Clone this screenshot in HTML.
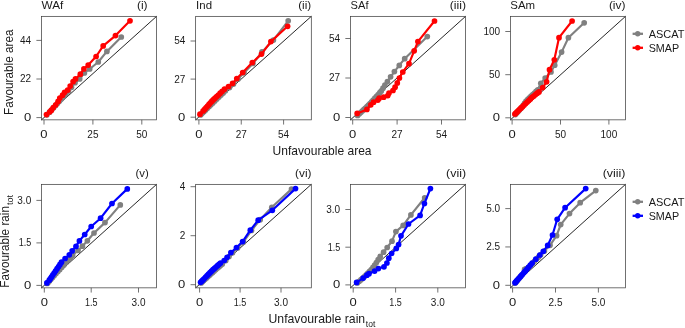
<!DOCTYPE html>
<html lang="en"><head><meta charset="utf-8"><title>Figure</title>
<style>html,body{margin:0;padding:0;background:#fff}svg{display:block}</style></head>
<body>
<svg width="685" height="328" viewBox="0 0 685 328" font-family="'Liberation Sans', sans-serif" fill="#1a1a1a">
<rect width="685" height="328" fill="#fff"/>
<g>
<line x1="41.50" y1="119.85" x2="156.55" y2="16.35" stroke="#262626" stroke-width="1.0"/>
<polyline points="46.9,114.8 49.5,112.2 51.5,110.0 53.5,107.8 55.5,105.6 57.5,103.3 59.5,101.0 61.5,98.8 63.8,96.3 66.0,93.8 68.5,91.0 71.5,87.3 75.0,82.7 79.7,78.9 84.4,72.9 89.7,69.0 98.3,62.0 106.9,51.4 121.3,37.0" fill="none" stroke="#808080" stroke-width="2.15" stroke-linejoin="round" stroke-linecap="round"/><g fill="#808080"><circle cx="46.9" cy="114.8" r="2.85"/><circle cx="49.5" cy="112.2" r="2.85"/><circle cx="51.5" cy="110.0" r="2.85"/><circle cx="53.5" cy="107.8" r="2.85"/><circle cx="55.5" cy="105.6" r="2.85"/><circle cx="57.5" cy="103.3" r="2.85"/><circle cx="59.5" cy="101.0" r="2.85"/><circle cx="61.5" cy="98.8" r="2.85"/><circle cx="63.8" cy="96.3" r="2.85"/><circle cx="66.0" cy="93.8" r="2.85"/><circle cx="68.5" cy="91.0" r="2.85"/><circle cx="71.5" cy="87.3" r="2.85"/><circle cx="75.0" cy="82.7" r="2.85"/><circle cx="79.7" cy="78.9" r="2.85"/><circle cx="84.4" cy="72.9" r="2.85"/><circle cx="89.7" cy="69.0" r="2.85"/><circle cx="98.3" cy="62.0" r="2.85"/><circle cx="106.9" cy="51.4" r="2.85"/><circle cx="121.3" cy="37.0" r="2.85"/></g>
<polyline points="46.5,114.6 49.8,111.8 51.4,110.2 53.3,107.6 55.8,104.8 58.1,101.4 59.8,98.0 62.6,95.2 64.6,92.3 67.7,90.1 70.2,86.1 73.1,81.7 75.5,78.9 80.3,74.2 83.9,68.9 88.2,65.1 96.1,56.5 103.2,45.9 115.5,35.6 130.0,20.8" fill="none" stroke="#ff0000" stroke-width="2.15" stroke-linejoin="round" stroke-linecap="round"/><g fill="#ff0000"><circle cx="46.5" cy="114.6" r="2.85"/><circle cx="49.8" cy="111.8" r="2.85"/><circle cx="51.4" cy="110.2" r="2.85"/><circle cx="53.3" cy="107.6" r="2.85"/><circle cx="55.8" cy="104.8" r="2.85"/><circle cx="58.1" cy="101.4" r="2.85"/><circle cx="59.8" cy="98.0" r="2.85"/><circle cx="62.6" cy="95.2" r="2.85"/><circle cx="64.6" cy="92.3" r="2.85"/><circle cx="67.7" cy="90.1" r="2.85"/><circle cx="70.2" cy="86.1" r="2.85"/><circle cx="73.1" cy="81.7" r="2.85"/><circle cx="75.5" cy="78.9" r="2.85"/><circle cx="80.3" cy="74.2" r="2.85"/><circle cx="83.9" cy="68.9" r="2.85"/><circle cx="88.2" cy="65.1" r="2.85"/><circle cx="96.1" cy="56.5" r="2.85"/><circle cx="103.2" cy="45.9" r="2.85"/><circle cx="115.5" cy="35.6" r="2.85"/><circle cx="130.0" cy="20.8" r="2.85"/></g>
<rect x="41.50" y="16.35" width="115.05" height="103.50" fill="none" stroke="#3a3a3a" stroke-width="0.72"/>
<line x1="44.00" y1="119.85" x2="44.00" y2="124.55" stroke="#3a3a3a" stroke-width="0.72"/>
<text x="40.39" y="137.85" font-size="10.00" textLength="7.23" lengthAdjust="spacingAndGlyphs">0</text>
<line x1="92.90" y1="119.85" x2="92.90" y2="124.55" stroke="#3a3a3a" stroke-width="0.72"/>
<text x="87.34" y="137.85" font-size="10.00" textLength="11.12" lengthAdjust="spacingAndGlyphs">25</text>
<line x1="141.80" y1="119.85" x2="141.80" y2="124.55" stroke="#3a3a3a" stroke-width="0.72"/>
<text x="136.24" y="137.85" font-size="10.00" textLength="11.12" lengthAdjust="spacingAndGlyphs">50</text>
<line x1="36.40" y1="117.60" x2="41.50" y2="117.60" stroke="#3a3a3a" stroke-width="0.72"/>
<text x="23.98" y="121.05" font-size="10.00" textLength="7.23" lengthAdjust="spacingAndGlyphs">0</text>
<line x1="36.40" y1="79.00" x2="41.50" y2="79.00" stroke="#3a3a3a" stroke-width="0.72"/>
<text x="20.07" y="82.45" font-size="10.00" textLength="11.12" lengthAdjust="spacingAndGlyphs">22</text>
<line x1="36.40" y1="40.40" x2="41.50" y2="40.40" stroke="#3a3a3a" stroke-width="0.72"/>
<text x="20.07" y="43.85" font-size="10.00" textLength="11.12" lengthAdjust="spacingAndGlyphs">44</text>
<text x="41.60" y="8.65" font-size="11.60" textLength="21.76" lengthAdjust="spacingAndGlyphs">WAf</text>
<text x="136.90" y="8.65" font-size="11.60" textLength="10.71" lengthAdjust="spacingAndGlyphs">(i)</text>
</g>
<g>
<line x1="195.65" y1="119.85" x2="311.30" y2="16.35" stroke="#262626" stroke-width="1.0"/>
<polyline points="200.4,114.9 201.3,114.0 202.6,112.8 204.0,111.4 205.6,109.9 207.3,108.2 209.1,106.5 210.9,104.8 212.8,102.9 214.8,101.0 216.8,99.1 218.9,97.1 221.0,95.0 223.2,92.9 225.4,90.8 229.5,87.6 233.5,84.0 238.0,79.0 244.0,72.7 253.0,63.5 262.0,51.9 273.4,40.1 288.2,20.8" fill="none" stroke="#808080" stroke-width="2.15" stroke-linejoin="round" stroke-linecap="round"/><g fill="#808080"><circle cx="200.4" cy="114.9" r="2.85"/><circle cx="201.3" cy="114.0" r="2.85"/><circle cx="202.6" cy="112.8" r="2.85"/><circle cx="204.0" cy="111.4" r="2.85"/><circle cx="205.6" cy="109.9" r="2.85"/><circle cx="207.3" cy="108.2" r="2.85"/><circle cx="209.1" cy="106.5" r="2.85"/><circle cx="210.9" cy="104.8" r="2.85"/><circle cx="212.8" cy="102.9" r="2.85"/><circle cx="214.8" cy="101.0" r="2.85"/><circle cx="216.8" cy="99.1" r="2.85"/><circle cx="218.9" cy="97.1" r="2.85"/><circle cx="221.0" cy="95.0" r="2.85"/><circle cx="223.2" cy="92.9" r="2.85"/><circle cx="225.4" cy="90.8" r="2.85"/><circle cx="229.5" cy="87.6" r="2.85"/><circle cx="233.5" cy="84.0" r="2.85"/><circle cx="238.0" cy="79.0" r="2.85"/><circle cx="244.0" cy="72.7" r="2.85"/><circle cx="253.0" cy="63.5" r="2.85"/><circle cx="262.0" cy="51.9" r="2.85"/><circle cx="273.4" cy="40.1" r="2.85"/><circle cx="288.2" cy="20.8" r="2.85"/></g>
<polyline points="200.0,114.2 203.2,110.9 204.8,109.2 206.2,107.6 207.6,106.0 209.0,104.4 210.4,102.8 211.9,101.2 213.4,99.7 215.0,98.2 216.7,96.6 218.4,95.0 220.2,93.2 222.2,91.3 224.5,89.2 228.5,86.5 232.6,83.3 236.8,78.6 242.7,72.5 252.3,62.5 261.5,54.1 270.9,41.6 287.6,26.3" fill="none" stroke="#ff0000" stroke-width="2.15" stroke-linejoin="round" stroke-linecap="round"/><g fill="#ff0000"><circle cx="200.0" cy="114.2" r="2.85"/><circle cx="203.2" cy="110.9" r="2.85"/><circle cx="204.8" cy="109.2" r="2.85"/><circle cx="206.2" cy="107.6" r="2.85"/><circle cx="207.6" cy="106.0" r="2.85"/><circle cx="209.0" cy="104.4" r="2.85"/><circle cx="210.4" cy="102.8" r="2.85"/><circle cx="211.9" cy="101.2" r="2.85"/><circle cx="213.4" cy="99.7" r="2.85"/><circle cx="215.0" cy="98.2" r="2.85"/><circle cx="216.7" cy="96.6" r="2.85"/><circle cx="218.4" cy="95.0" r="2.85"/><circle cx="220.2" cy="93.2" r="2.85"/><circle cx="222.2" cy="91.3" r="2.85"/><circle cx="224.5" cy="89.2" r="2.85"/><circle cx="228.5" cy="86.5" r="2.85"/><circle cx="232.6" cy="83.3" r="2.85"/><circle cx="236.8" cy="78.6" r="2.85"/><circle cx="242.7" cy="72.5" r="2.85"/><circle cx="252.3" cy="62.5" r="2.85"/><circle cx="261.5" cy="54.1" r="2.85"/><circle cx="270.9" cy="41.6" r="2.85"/><circle cx="287.6" cy="26.3" r="2.85"/></g>
<rect x="195.65" y="16.35" width="115.65" height="103.50" fill="none" stroke="#3a3a3a" stroke-width="0.72"/>
<line x1="198.90" y1="119.85" x2="198.90" y2="124.55" stroke="#3a3a3a" stroke-width="0.72"/>
<text x="195.29" y="137.85" font-size="10.00" textLength="7.23" lengthAdjust="spacingAndGlyphs">0</text>
<line x1="241.25" y1="119.85" x2="241.25" y2="124.55" stroke="#3a3a3a" stroke-width="0.72"/>
<text x="235.69" y="137.85" font-size="10.00" textLength="11.12" lengthAdjust="spacingAndGlyphs">27</text>
<line x1="283.60" y1="119.85" x2="283.60" y2="124.55" stroke="#3a3a3a" stroke-width="0.72"/>
<text x="278.04" y="137.85" font-size="10.00" textLength="11.12" lengthAdjust="spacingAndGlyphs">54</text>
<line x1="190.55" y1="117.20" x2="195.65" y2="117.20" stroke="#3a3a3a" stroke-width="0.72"/>
<text x="178.13" y="120.65" font-size="10.00" textLength="7.23" lengthAdjust="spacingAndGlyphs">0</text>
<line x1="190.55" y1="79.10" x2="195.65" y2="79.10" stroke="#3a3a3a" stroke-width="0.72"/>
<text x="174.22" y="82.55" font-size="10.00" textLength="11.12" lengthAdjust="spacingAndGlyphs">27</text>
<line x1="190.55" y1="41.00" x2="195.65" y2="41.00" stroke="#3a3a3a" stroke-width="0.72"/>
<text x="174.22" y="44.45" font-size="10.00" textLength="11.12" lengthAdjust="spacingAndGlyphs">54</text>
<text x="196.10" y="8.65" font-size="11.60" textLength="15.90" lengthAdjust="spacingAndGlyphs">Ind</text>
<text x="298.20" y="8.65" font-size="11.60" textLength="13.00" lengthAdjust="spacingAndGlyphs">(ii)</text>
</g>
<g>
<line x1="350.45" y1="119.85" x2="465.55" y2="16.35" stroke="#262626" stroke-width="1.0"/>
<polyline points="357.6,115.4 359.3,113.8 360.9,112.3 362.5,110.8 364.0,109.4 365.5,108.0 367.0,106.6 368.5,105.1 370.0,103.5 371.6,101.8 373.2,100.0 374.9,98.2 376.6,96.3 378.2,94.5 379.8,92.7 381.3,90.9 383.0,88.2 384.9,85.2 387.4,81.7 390.6,76.8 394.4,71.6 399.3,65.4 404.7,58.7 427.3,36.6" fill="none" stroke="#808080" stroke-width="2.15" stroke-linejoin="round" stroke-linecap="round"/><g fill="#808080"><circle cx="357.6" cy="115.4" r="2.85"/><circle cx="359.3" cy="113.8" r="2.85"/><circle cx="360.9" cy="112.3" r="2.85"/><circle cx="362.5" cy="110.8" r="2.85"/><circle cx="364.0" cy="109.4" r="2.85"/><circle cx="365.5" cy="108.0" r="2.85"/><circle cx="367.0" cy="106.6" r="2.85"/><circle cx="368.5" cy="105.1" r="2.85"/><circle cx="370.0" cy="103.5" r="2.85"/><circle cx="371.6" cy="101.8" r="2.85"/><circle cx="373.2" cy="100.0" r="2.85"/><circle cx="374.9" cy="98.2" r="2.85"/><circle cx="376.6" cy="96.3" r="2.85"/><circle cx="378.2" cy="94.5" r="2.85"/><circle cx="379.8" cy="92.7" r="2.85"/><circle cx="381.3" cy="90.9" r="2.85"/><circle cx="383.0" cy="88.2" r="2.85"/><circle cx="384.9" cy="85.2" r="2.85"/><circle cx="387.4" cy="81.7" r="2.85"/><circle cx="390.6" cy="76.8" r="2.85"/><circle cx="394.4" cy="71.6" r="2.85"/><circle cx="399.3" cy="65.4" r="2.85"/><circle cx="404.7" cy="58.7" r="2.85"/><circle cx="427.3" cy="36.6" r="2.85"/></g>
<polyline points="357.2,113.4 366.9,109.4 370.8,104.8 373.6,102.2 377.9,100.1 379.2,98.2 383.7,97.2 387.8,95.6 389.0,93.0 393.0,90.5 395.1,87.2 397.3,82.9 399.4,78.0 402.8,72.0 409.0,63.7 414.2,50.8 417.9,41.6 434.5,21.0" fill="none" stroke="#ff0000" stroke-width="2.15" stroke-linejoin="round" stroke-linecap="round"/><g fill="#ff0000"><circle cx="357.2" cy="113.4" r="2.85"/><circle cx="366.9" cy="109.4" r="2.85"/><circle cx="370.8" cy="104.8" r="2.85"/><circle cx="373.6" cy="102.2" r="2.85"/><circle cx="377.9" cy="100.1" r="2.85"/><circle cx="379.2" cy="98.2" r="2.85"/><circle cx="383.7" cy="97.2" r="2.85"/><circle cx="387.8" cy="95.6" r="2.85"/><circle cx="389.0" cy="93.0" r="2.85"/><circle cx="393.0" cy="90.5" r="2.85"/><circle cx="395.1" cy="87.2" r="2.85"/><circle cx="397.3" cy="82.9" r="2.85"/><circle cx="399.4" cy="78.0" r="2.85"/><circle cx="402.8" cy="72.0" r="2.85"/><circle cx="409.0" cy="63.7" r="2.85"/><circle cx="414.2" cy="50.8" r="2.85"/><circle cx="417.9" cy="41.6" r="2.85"/><circle cx="434.5" cy="21.0" r="2.85"/></g>
<rect x="350.45" y="16.35" width="115.10" height="103.50" fill="none" stroke="#3a3a3a" stroke-width="0.72"/>
<line x1="352.70" y1="119.85" x2="352.70" y2="124.55" stroke="#3a3a3a" stroke-width="0.72"/>
<text x="349.09" y="137.85" font-size="10.00" textLength="7.23" lengthAdjust="spacingAndGlyphs">0</text>
<line x1="397.10" y1="119.85" x2="397.10" y2="124.55" stroke="#3a3a3a" stroke-width="0.72"/>
<text x="391.54" y="137.85" font-size="10.00" textLength="11.12" lengthAdjust="spacingAndGlyphs">27</text>
<line x1="441.50" y1="119.85" x2="441.50" y2="124.55" stroke="#3a3a3a" stroke-width="0.72"/>
<text x="435.94" y="137.85" font-size="10.00" textLength="11.12" lengthAdjust="spacingAndGlyphs">54</text>
<line x1="345.35" y1="117.50" x2="350.45" y2="117.50" stroke="#3a3a3a" stroke-width="0.72"/>
<text x="332.94" y="120.95" font-size="10.00" textLength="7.23" lengthAdjust="spacingAndGlyphs">0</text>
<line x1="345.35" y1="78.00" x2="350.45" y2="78.00" stroke="#3a3a3a" stroke-width="0.72"/>
<text x="329.02" y="81.45" font-size="10.00" textLength="11.12" lengthAdjust="spacingAndGlyphs">27</text>
<line x1="345.35" y1="38.50" x2="350.45" y2="38.50" stroke="#3a3a3a" stroke-width="0.72"/>
<text x="329.02" y="41.95" font-size="10.00" textLength="11.12" lengthAdjust="spacingAndGlyphs">54</text>
<text x="350.60" y="8.65" font-size="11.60" textLength="17.86" lengthAdjust="spacingAndGlyphs">SAf</text>
<text x="449.70" y="8.65" font-size="11.60" textLength="16.30" lengthAdjust="spacingAndGlyphs">(iii)</text>
</g>
<g>
<line x1="510.40" y1="119.85" x2="625.50" y2="16.35" stroke="#262626" stroke-width="1.0"/>
<polyline points="515.3,114.6 516.6,113.1 518.0,111.6 519.3,110.0 520.7,108.5 522.0,107.0 523.4,105.0 524.7,103.0 526.1,101.0 527.8,99.4 529.4,97.8 531.1,96.2 532.8,94.6 534.5,93.0 536.1,91.4 537.8,89.8 540.8,83.3 545.2,78.1 551.0,72.0 554.7,65.2 561.6,52.1 568.4,37.7 584.2,22.8" fill="none" stroke="#808080" stroke-width="2.15" stroke-linejoin="round" stroke-linecap="round"/><g fill="#808080"><circle cx="515.3" cy="114.6" r="2.85"/><circle cx="516.6" cy="113.1" r="2.85"/><circle cx="518.0" cy="111.6" r="2.85"/><circle cx="519.3" cy="110.0" r="2.85"/><circle cx="520.7" cy="108.5" r="2.85"/><circle cx="522.0" cy="107.0" r="2.85"/><circle cx="523.4" cy="105.0" r="2.85"/><circle cx="524.7" cy="103.0" r="2.85"/><circle cx="526.1" cy="101.0" r="2.85"/><circle cx="527.8" cy="99.4" r="2.85"/><circle cx="529.4" cy="97.8" r="2.85"/><circle cx="531.1" cy="96.2" r="2.85"/><circle cx="532.8" cy="94.6" r="2.85"/><circle cx="534.5" cy="93.0" r="2.85"/><circle cx="536.1" cy="91.4" r="2.85"/><circle cx="537.8" cy="89.8" r="2.85"/><circle cx="540.8" cy="83.3" r="2.85"/><circle cx="545.2" cy="78.1" r="2.85"/><circle cx="551.0" cy="72.0" r="2.85"/><circle cx="554.7" cy="65.2" r="2.85"/><circle cx="561.6" cy="52.1" r="2.85"/><circle cx="568.4" cy="37.7" r="2.85"/><circle cx="584.2" cy="22.8" r="2.85"/></g>
<polyline points="514.9,114.0 515.9,113.0 517.1,111.9 518.4,110.6 519.7,109.3 521.1,107.9 522.6,106.5 524.1,105.0 525.6,103.5 527.2,102.0 528.8,100.5 530.4,98.9 532.0,97.3 533.8,96.0 535.5,94.6 537.2,93.2 539.0,91.9 542.7,87.6 546.6,81.8 549.5,69.7 554.3,59.8 559.0,37.7 572.1,21.0" fill="none" stroke="#ff0000" stroke-width="2.15" stroke-linejoin="round" stroke-linecap="round"/><g fill="#ff0000"><circle cx="514.9" cy="114.0" r="2.85"/><circle cx="515.9" cy="113.0" r="2.85"/><circle cx="517.1" cy="111.9" r="2.85"/><circle cx="518.4" cy="110.6" r="2.85"/><circle cx="519.7" cy="109.3" r="2.85"/><circle cx="521.1" cy="107.9" r="2.85"/><circle cx="522.6" cy="106.5" r="2.85"/><circle cx="524.1" cy="105.0" r="2.85"/><circle cx="525.6" cy="103.5" r="2.85"/><circle cx="527.2" cy="102.0" r="2.85"/><circle cx="528.8" cy="100.5" r="2.85"/><circle cx="530.4" cy="98.9" r="2.85"/><circle cx="532.0" cy="97.3" r="2.85"/><circle cx="533.8" cy="96.0" r="2.85"/><circle cx="535.5" cy="94.6" r="2.85"/><circle cx="537.2" cy="93.2" r="2.85"/><circle cx="539.0" cy="91.9" r="2.85"/><circle cx="542.7" cy="87.6" r="2.85"/><circle cx="546.6" cy="81.8" r="2.85"/><circle cx="549.5" cy="69.7" r="2.85"/><circle cx="554.3" cy="59.8" r="2.85"/><circle cx="559.0" cy="37.7" r="2.85"/><circle cx="572.1" cy="21.0" r="2.85"/></g>
<rect x="510.40" y="16.35" width="115.10" height="103.50" fill="none" stroke="#3a3a3a" stroke-width="0.72"/>
<line x1="512.10" y1="119.85" x2="512.10" y2="124.55" stroke="#3a3a3a" stroke-width="0.72"/>
<text x="508.49" y="137.85" font-size="10.00" textLength="7.23" lengthAdjust="spacingAndGlyphs">0</text>
<line x1="560.50" y1="119.85" x2="560.50" y2="124.55" stroke="#3a3a3a" stroke-width="0.72"/>
<text x="554.94" y="137.85" font-size="10.00" textLength="11.12" lengthAdjust="spacingAndGlyphs">50</text>
<line x1="608.90" y1="119.85" x2="608.90" y2="124.55" stroke="#3a3a3a" stroke-width="0.72"/>
<text x="600.56" y="137.85" font-size="10.00" textLength="16.69" lengthAdjust="spacingAndGlyphs">100</text>
<line x1="505.30" y1="117.80" x2="510.40" y2="117.80" stroke="#3a3a3a" stroke-width="0.72"/>
<text x="492.88" y="121.25" font-size="10.00" textLength="7.23" lengthAdjust="spacingAndGlyphs">0</text>
<line x1="505.30" y1="74.70" x2="510.40" y2="74.70" stroke="#3a3a3a" stroke-width="0.72"/>
<text x="488.97" y="78.15" font-size="10.00" textLength="11.12" lengthAdjust="spacingAndGlyphs">50</text>
<line x1="505.30" y1="31.50" x2="510.40" y2="31.50" stroke="#3a3a3a" stroke-width="0.72"/>
<text x="483.42" y="34.95" font-size="10.00" textLength="16.69" lengthAdjust="spacingAndGlyphs">100</text>
<text x="510.30" y="8.65" font-size="11.60" textLength="24.79" lengthAdjust="spacingAndGlyphs">SAm</text>
<text x="608.90" y="8.65" font-size="11.60" textLength="16.61" lengthAdjust="spacingAndGlyphs">(iv)</text>
</g>
<g>
<line x1="41.50" y1="287.85" x2="156.55" y2="184.35" stroke="#262626" stroke-width="1.0"/>
<polyline points="47.2,283.4 48.1,282.4 49.4,280.9 50.9,279.3 52.5,277.5 54.2,275.6 56.0,273.6 57.9,271.5 59.8,269.4 61.8,267.2 63.9,264.9 66.0,262.5 68.1,260.1 70.4,257.7 72.6,255.2 78.0,250.5 82.4,246.2 87.4,240.8 94.0,233.0 105.0,222.6 120.3,204.9" fill="none" stroke="#808080" stroke-width="2.15" stroke-linejoin="round" stroke-linecap="round"/><g fill="#808080"><circle cx="47.2" cy="283.4" r="2.85"/><circle cx="48.1" cy="282.4" r="2.85"/><circle cx="49.4" cy="280.9" r="2.85"/><circle cx="50.9" cy="279.3" r="2.85"/><circle cx="52.5" cy="277.5" r="2.85"/><circle cx="54.2" cy="275.6" r="2.85"/><circle cx="56.0" cy="273.6" r="2.85"/><circle cx="57.9" cy="271.5" r="2.85"/><circle cx="59.8" cy="269.4" r="2.85"/><circle cx="61.8" cy="267.2" r="2.85"/><circle cx="63.9" cy="264.9" r="2.85"/><circle cx="66.0" cy="262.5" r="2.85"/><circle cx="68.1" cy="260.1" r="2.85"/><circle cx="70.4" cy="257.7" r="2.85"/><circle cx="72.6" cy="255.2" r="2.85"/><circle cx="78.0" cy="250.5" r="2.85"/><circle cx="82.4" cy="246.2" r="2.85"/><circle cx="87.4" cy="240.8" r="2.85"/><circle cx="94.0" cy="233.0" r="2.85"/><circle cx="105.0" cy="222.6" r="2.85"/><circle cx="120.3" cy="204.9" r="2.85"/></g>
<polyline points="46.9,282.9 49.3,280.2 50.4,278.6 51.6,276.8 52.9,274.8 54.3,272.8 55.7,270.8 57.1,268.7 58.6,266.5 60.0,264.4 61.5,262.2 65.1,258.5 69.3,254.8 72.2,250.9 76.0,246.4 79.4,240.9 84.7,234.5 91.2,226.5 100.6,218.2 112.0,203.5 127.3,188.9" fill="none" stroke="#0000ff" stroke-width="2.15" stroke-linejoin="round" stroke-linecap="round"/><g fill="#0000ff"><circle cx="46.9" cy="282.9" r="2.85"/><circle cx="49.3" cy="280.2" r="2.85"/><circle cx="50.4" cy="278.6" r="2.85"/><circle cx="51.6" cy="276.8" r="2.85"/><circle cx="52.9" cy="274.8" r="2.85"/><circle cx="54.3" cy="272.8" r="2.85"/><circle cx="55.7" cy="270.8" r="2.85"/><circle cx="57.1" cy="268.7" r="2.85"/><circle cx="58.6" cy="266.5" r="2.85"/><circle cx="60.0" cy="264.4" r="2.85"/><circle cx="61.5" cy="262.2" r="2.85"/><circle cx="65.1" cy="258.5" r="2.85"/><circle cx="69.3" cy="254.8" r="2.85"/><circle cx="72.2" cy="250.9" r="2.85"/><circle cx="76.0" cy="246.4" r="2.85"/><circle cx="79.4" cy="240.9" r="2.85"/><circle cx="84.7" cy="234.5" r="2.85"/><circle cx="91.2" cy="226.5" r="2.85"/><circle cx="100.6" cy="218.2" r="2.85"/><circle cx="112.0" cy="203.5" r="2.85"/><circle cx="127.3" cy="188.9" r="2.85"/></g>
<rect x="41.50" y="184.35" width="115.05" height="103.50" fill="none" stroke="#3a3a3a" stroke-width="0.72"/>
<line x1="44.30" y1="287.85" x2="44.30" y2="292.55" stroke="#3a3a3a" stroke-width="0.72"/>
<text x="40.69" y="305.85" font-size="10.00" textLength="7.23" lengthAdjust="spacingAndGlyphs">0</text>
<line x1="91.20" y1="287.85" x2="91.20" y2="292.55" stroke="#3a3a3a" stroke-width="0.72"/>
<text x="84.95" y="305.85" font-size="10.00" textLength="12.51" lengthAdjust="spacingAndGlyphs">1.5</text>
<line x1="138.50" y1="287.85" x2="138.50" y2="292.55" stroke="#3a3a3a" stroke-width="0.72"/>
<text x="131.55" y="305.85" font-size="10.00" textLength="13.90" lengthAdjust="spacingAndGlyphs">3.0</text>
<line x1="36.40" y1="285.40" x2="41.50" y2="285.40" stroke="#3a3a3a" stroke-width="0.72"/>
<text x="23.98" y="288.85" font-size="10.00" textLength="7.23" lengthAdjust="spacingAndGlyphs">0</text>
<line x1="36.40" y1="242.90" x2="41.50" y2="242.90" stroke="#3a3a3a" stroke-width="0.72"/>
<text x="18.69" y="246.35" font-size="10.00" textLength="12.51" lengthAdjust="spacingAndGlyphs">1.5</text>
<line x1="36.40" y1="200.40" x2="41.50" y2="200.40" stroke="#3a3a3a" stroke-width="0.72"/>
<text x="17.30" y="203.85" font-size="10.00" textLength="13.90" lengthAdjust="spacingAndGlyphs">3.0</text>
<text x="135.50" y="176.65" font-size="11.60" textLength="13.31" lengthAdjust="spacingAndGlyphs">(v)</text>
</g>
<g>
<line x1="195.65" y1="287.85" x2="311.30" y2="184.35" stroke="#262626" stroke-width="1.0"/>
<polyline points="201.1,282.9 202.3,281.8 203.6,280.6 205.0,279.3 206.5,278.0 208.0,276.6 209.5,275.2 211.0,273.8 212.6,272.4 214.2,270.9 215.8,269.5 217.4,268.1 219.1,266.7 220.7,265.3 222.3,263.9 225.8,260.6 229.0,256.5 232.5,252.8 237.5,248.0 243.5,242.0 251.5,230.5 260.2,219.7 271.8,207.3 291.5,189.1" fill="none" stroke="#808080" stroke-width="2.15" stroke-linejoin="round" stroke-linecap="round"/><g fill="#808080"><circle cx="201.1" cy="282.9" r="2.85"/><circle cx="202.3" cy="281.8" r="2.85"/><circle cx="203.6" cy="280.6" r="2.85"/><circle cx="205.0" cy="279.3" r="2.85"/><circle cx="206.5" cy="278.0" r="2.85"/><circle cx="208.0" cy="276.6" r="2.85"/><circle cx="209.5" cy="275.2" r="2.85"/><circle cx="211.0" cy="273.8" r="2.85"/><circle cx="212.6" cy="272.4" r="2.85"/><circle cx="214.2" cy="270.9" r="2.85"/><circle cx="215.8" cy="269.5" r="2.85"/><circle cx="217.4" cy="268.1" r="2.85"/><circle cx="219.1" cy="266.7" r="2.85"/><circle cx="220.7" cy="265.3" r="2.85"/><circle cx="222.3" cy="263.9" r="2.85"/><circle cx="225.8" cy="260.6" r="2.85"/><circle cx="229.0" cy="256.5" r="2.85"/><circle cx="232.5" cy="252.8" r="2.85"/><circle cx="237.5" cy="248.0" r="2.85"/><circle cx="243.5" cy="242.0" r="2.85"/><circle cx="251.5" cy="230.5" r="2.85"/><circle cx="260.2" cy="219.7" r="2.85"/><circle cx="271.8" cy="207.3" r="2.85"/><circle cx="291.5" cy="189.1" r="2.85"/></g>
<polyline points="200.6,282.3 201.7,281.2 203.0,279.9 204.3,278.5 205.7,277.1 207.1,275.7 208.5,274.2 210.0,272.7 211.5,271.2 213.0,269.7 214.5,268.4 216.0,267.0 217.5,265.7 219.0,264.3 220.5,263.0 224.2,260.5 227.1,257.3 230.9,252.6 236.5,247.5 242.6,241.6 250.3,230.2 258.2,220.2 272.3,210.3 295.5,188.6" fill="none" stroke="#0000ff" stroke-width="2.15" stroke-linejoin="round" stroke-linecap="round"/><g fill="#0000ff"><circle cx="200.6" cy="282.3" r="2.85"/><circle cx="201.7" cy="281.2" r="2.85"/><circle cx="203.0" cy="279.9" r="2.85"/><circle cx="204.3" cy="278.5" r="2.85"/><circle cx="205.7" cy="277.1" r="2.85"/><circle cx="207.1" cy="275.7" r="2.85"/><circle cx="208.5" cy="274.2" r="2.85"/><circle cx="210.0" cy="272.7" r="2.85"/><circle cx="211.5" cy="271.2" r="2.85"/><circle cx="213.0" cy="269.7" r="2.85"/><circle cx="214.5" cy="268.4" r="2.85"/><circle cx="216.0" cy="267.0" r="2.85"/><circle cx="217.5" cy="265.7" r="2.85"/><circle cx="219.0" cy="264.3" r="2.85"/><circle cx="220.5" cy="263.0" r="2.85"/><circle cx="224.2" cy="260.5" r="2.85"/><circle cx="227.1" cy="257.3" r="2.85"/><circle cx="230.9" cy="252.6" r="2.85"/><circle cx="236.5" cy="247.5" r="2.85"/><circle cx="242.6" cy="241.6" r="2.85"/><circle cx="250.3" cy="230.2" r="2.85"/><circle cx="258.2" cy="220.2" r="2.85"/><circle cx="272.3" cy="210.3" r="2.85"/><circle cx="295.5" cy="188.6" r="2.85"/></g>
<rect x="195.65" y="184.35" width="115.65" height="103.50" fill="none" stroke="#3a3a3a" stroke-width="0.72"/>
<line x1="199.60" y1="287.85" x2="199.60" y2="292.55" stroke="#3a3a3a" stroke-width="0.72"/>
<text x="195.99" y="305.85" font-size="10.00" textLength="7.23" lengthAdjust="spacingAndGlyphs">0</text>
<line x1="240.10" y1="287.85" x2="240.10" y2="292.55" stroke="#3a3a3a" stroke-width="0.72"/>
<text x="233.84" y="305.85" font-size="10.00" textLength="12.51" lengthAdjust="spacingAndGlyphs">1.5</text>
<line x1="281.00" y1="287.85" x2="281.00" y2="292.55" stroke="#3a3a3a" stroke-width="0.72"/>
<text x="274.05" y="305.85" font-size="10.00" textLength="13.90" lengthAdjust="spacingAndGlyphs">3.0</text>
<line x1="190.55" y1="284.70" x2="195.65" y2="284.70" stroke="#3a3a3a" stroke-width="0.72"/>
<text x="178.13" y="288.15" font-size="10.00" textLength="7.23" lengthAdjust="spacingAndGlyphs">0</text>
<line x1="190.55" y1="235.70" x2="195.65" y2="235.70" stroke="#3a3a3a" stroke-width="0.72"/>
<text x="179.80" y="239.15" font-size="10.00" textLength="5.56" lengthAdjust="spacingAndGlyphs">2</text>
<line x1="190.55" y1="186.70" x2="195.65" y2="186.70" stroke="#3a3a3a" stroke-width="0.72"/>
<text x="179.80" y="190.15" font-size="10.00" textLength="5.56" lengthAdjust="spacingAndGlyphs">4</text>
<text x="295.10" y="176.65" font-size="11.60" textLength="16.41" lengthAdjust="spacingAndGlyphs">(vi)</text>
</g>
<g>
<line x1="350.45" y1="287.85" x2="465.55" y2="184.35" stroke="#262626" stroke-width="1.0"/>
<polyline points="357.3,283.0 359.2,281.3 361.0,279.7 362.8,278.1 364.5,276.5 366.2,274.9 367.9,273.2 369.6,271.4 371.3,269.5 373.0,267.4 374.7,265.1 376.4,262.5 378.2,259.6 380.2,256.4 383.6,252.2 387.2,247.5 392.0,241.2 395.9,231.6 403.2,225.4 410.9,214.9 424.7,197.8" fill="none" stroke="#808080" stroke-width="2.15" stroke-linejoin="round" stroke-linecap="round"/><g fill="#808080"><circle cx="357.3" cy="283.0" r="2.85"/><circle cx="359.2" cy="281.3" r="2.85"/><circle cx="361.0" cy="279.7" r="2.85"/><circle cx="362.8" cy="278.1" r="2.85"/><circle cx="364.5" cy="276.5" r="2.85"/><circle cx="366.2" cy="274.9" r="2.85"/><circle cx="367.9" cy="273.2" r="2.85"/><circle cx="369.6" cy="271.4" r="2.85"/><circle cx="371.3" cy="269.5" r="2.85"/><circle cx="373.0" cy="267.4" r="2.85"/><circle cx="374.7" cy="265.1" r="2.85"/><circle cx="376.4" cy="262.5" r="2.85"/><circle cx="378.2" cy="259.6" r="2.85"/><circle cx="380.2" cy="256.4" r="2.85"/><circle cx="383.6" cy="252.2" r="2.85"/><circle cx="387.2" cy="247.5" r="2.85"/><circle cx="392.0" cy="241.2" r="2.85"/><circle cx="395.9" cy="231.6" r="2.85"/><circle cx="403.2" cy="225.4" r="2.85"/><circle cx="410.9" cy="214.9" r="2.85"/><circle cx="424.7" cy="197.8" r="2.85"/></g>
<polyline points="356.6,282.4 363.2,278.1 366.9,275.2 369.0,273.7 374.6,271.1 378.4,268.6 384.0,266.8 386.9,263.0 388.8,258.2 391.6,253.5 396.3,248.4 398.6,244.6 401.0,235.8 408.5,224.0 420.1,215.4 424.4,203.5 430.4,188.6" fill="none" stroke="#0000ff" stroke-width="2.15" stroke-linejoin="round" stroke-linecap="round"/><g fill="#0000ff"><circle cx="356.6" cy="282.4" r="2.85"/><circle cx="363.2" cy="278.1" r="2.85"/><circle cx="366.9" cy="275.2" r="2.85"/><circle cx="369.0" cy="273.7" r="2.85"/><circle cx="374.6" cy="271.1" r="2.85"/><circle cx="378.4" cy="268.6" r="2.85"/><circle cx="384.0" cy="266.8" r="2.85"/><circle cx="386.9" cy="263.0" r="2.85"/><circle cx="388.8" cy="258.2" r="2.85"/><circle cx="391.6" cy="253.5" r="2.85"/><circle cx="396.3" cy="248.4" r="2.85"/><circle cx="398.6" cy="244.6" r="2.85"/><circle cx="401.0" cy="235.8" r="2.85"/><circle cx="408.5" cy="224.0" r="2.85"/><circle cx="420.1" cy="215.4" r="2.85"/><circle cx="424.4" cy="203.5" r="2.85"/><circle cx="430.4" cy="188.6" r="2.85"/></g>
<rect x="350.45" y="184.35" width="115.10" height="103.50" fill="none" stroke="#3a3a3a" stroke-width="0.72"/>
<line x1="353.20" y1="287.85" x2="353.20" y2="292.55" stroke="#3a3a3a" stroke-width="0.72"/>
<text x="349.59" y="305.85" font-size="10.00" textLength="7.23" lengthAdjust="spacingAndGlyphs">0</text>
<line x1="395.60" y1="287.85" x2="395.60" y2="292.55" stroke="#3a3a3a" stroke-width="0.72"/>
<text x="389.35" y="305.85" font-size="10.00" textLength="12.51" lengthAdjust="spacingAndGlyphs">1.5</text>
<line x1="437.80" y1="287.85" x2="437.80" y2="292.55" stroke="#3a3a3a" stroke-width="0.72"/>
<text x="430.85" y="305.85" font-size="10.00" textLength="13.90" lengthAdjust="spacingAndGlyphs">3.0</text>
<line x1="345.35" y1="284.90" x2="350.45" y2="284.90" stroke="#3a3a3a" stroke-width="0.72"/>
<text x="332.94" y="288.35" font-size="10.00" textLength="7.23" lengthAdjust="spacingAndGlyphs">0</text>
<line x1="345.35" y1="247.20" x2="350.45" y2="247.20" stroke="#3a3a3a" stroke-width="0.72"/>
<text x="327.64" y="250.65" font-size="10.00" textLength="12.51" lengthAdjust="spacingAndGlyphs">1.5</text>
<line x1="345.35" y1="209.50" x2="350.45" y2="209.50" stroke="#3a3a3a" stroke-width="0.72"/>
<text x="326.25" y="212.95" font-size="10.00" textLength="13.90" lengthAdjust="spacingAndGlyphs">3.0</text>
<text x="446.10" y="176.65" font-size="11.60" textLength="19.90" lengthAdjust="spacingAndGlyphs">(vii)</text>
</g>
<g>
<line x1="510.40" y1="287.85" x2="625.50" y2="184.35" stroke="#262626" stroke-width="1.0"/>
<polyline points="515.2,282.9 516.1,281.8 517.3,280.4 518.7,278.7 520.2,276.9 521.8,275.0 524.6,269.4 526.4,268.6 528.6,267.3 530.6,265.2 532.6,263.1 534.6,261.1 536.6,259.0 538.6,256.9 540.6,254.8 544.4,251.0 550.0,245.3 556.6,235.7 560.7,224.6 569.5,213.6 580.2,202.7 595.8,190.6" fill="none" stroke="#808080" stroke-width="2.15" stroke-linejoin="round" stroke-linecap="round"/><g fill="#808080"><circle cx="515.2" cy="282.9" r="2.85"/><circle cx="516.1" cy="281.8" r="2.85"/><circle cx="517.3" cy="280.4" r="2.85"/><circle cx="518.7" cy="278.7" r="2.85"/><circle cx="520.2" cy="276.9" r="2.85"/><circle cx="521.8" cy="275.0" r="2.85"/><circle cx="524.6" cy="269.4" r="2.85"/><circle cx="526.4" cy="268.6" r="2.85"/><circle cx="528.6" cy="267.3" r="2.85"/><circle cx="530.6" cy="265.2" r="2.85"/><circle cx="532.6" cy="263.1" r="2.85"/><circle cx="534.6" cy="261.1" r="2.85"/><circle cx="536.6" cy="259.0" r="2.85"/><circle cx="538.6" cy="256.9" r="2.85"/><circle cx="540.6" cy="254.8" r="2.85"/><circle cx="544.4" cy="251.0" r="2.85"/><circle cx="550.0" cy="245.3" r="2.85"/><circle cx="556.6" cy="235.7" r="2.85"/><circle cx="560.7" cy="224.6" r="2.85"/><circle cx="569.5" cy="213.6" r="2.85"/><circle cx="580.2" cy="202.7" r="2.85"/><circle cx="595.8" cy="190.6" r="2.85"/></g>
<polyline points="515.0,282.8 515.8,281.9 516.8,280.7 518.0,279.3 519.4,277.8 520.8,276.2 522.2,274.5 523.8,272.7 525.4,270.9 527.0,269.0 528.7,267.0 530.4,265.0 532.2,263.0 535.8,259.2 539.8,255.0 543.3,251.3 547.7,245.4 552.5,235.0 557.2,219.3 565.1,207.7 585.7,188.6" fill="none" stroke="#0000ff" stroke-width="2.15" stroke-linejoin="round" stroke-linecap="round"/><g fill="#0000ff"><circle cx="515.0" cy="282.8" r="2.85"/><circle cx="515.8" cy="281.9" r="2.85"/><circle cx="516.8" cy="280.7" r="2.85"/><circle cx="518.0" cy="279.3" r="2.85"/><circle cx="519.4" cy="277.8" r="2.85"/><circle cx="520.8" cy="276.2" r="2.85"/><circle cx="522.2" cy="274.5" r="2.85"/><circle cx="523.8" cy="272.7" r="2.85"/><circle cx="525.4" cy="270.9" r="2.85"/><circle cx="527.0" cy="269.0" r="2.85"/><circle cx="528.7" cy="267.0" r="2.85"/><circle cx="530.4" cy="265.0" r="2.85"/><circle cx="532.2" cy="263.0" r="2.85"/><circle cx="535.8" cy="259.2" r="2.85"/><circle cx="539.8" cy="255.0" r="2.85"/><circle cx="543.3" cy="251.3" r="2.85"/><circle cx="547.7" cy="245.4" r="2.85"/><circle cx="552.5" cy="235.0" r="2.85"/><circle cx="557.2" cy="219.3" r="2.85"/><circle cx="565.1" cy="207.7" r="2.85"/><circle cx="585.7" cy="188.6" r="2.85"/></g>
<rect x="510.40" y="184.35" width="115.10" height="103.50" fill="none" stroke="#3a3a3a" stroke-width="0.72"/>
<line x1="512.60" y1="287.85" x2="512.60" y2="292.55" stroke="#3a3a3a" stroke-width="0.72"/>
<text x="508.99" y="305.85" font-size="10.00" textLength="7.23" lengthAdjust="spacingAndGlyphs">0</text>
<line x1="555.50" y1="287.85" x2="555.50" y2="292.55" stroke="#3a3a3a" stroke-width="0.72"/>
<text x="548.55" y="305.85" font-size="10.00" textLength="13.90" lengthAdjust="spacingAndGlyphs">2.5</text>
<line x1="598.40" y1="287.85" x2="598.40" y2="292.55" stroke="#3a3a3a" stroke-width="0.72"/>
<text x="591.45" y="305.85" font-size="10.00" textLength="13.90" lengthAdjust="spacingAndGlyphs">5.0</text>
<line x1="505.30" y1="285.30" x2="510.40" y2="285.30" stroke="#3a3a3a" stroke-width="0.72"/>
<text x="492.88" y="288.75" font-size="10.00" textLength="7.23" lengthAdjust="spacingAndGlyphs">0</text>
<line x1="505.30" y1="246.95" x2="510.40" y2="246.95" stroke="#3a3a3a" stroke-width="0.72"/>
<text x="486.20" y="250.40" font-size="10.00" textLength="13.90" lengthAdjust="spacingAndGlyphs">2.5</text>
<line x1="505.30" y1="208.60" x2="510.40" y2="208.60" stroke="#3a3a3a" stroke-width="0.72"/>
<text x="486.20" y="212.05" font-size="10.00" textLength="13.90" lengthAdjust="spacingAndGlyphs">5.0</text>
<text x="602.70" y="176.65" font-size="11.60" textLength="22.80" lengthAdjust="spacingAndGlyphs">(viii)</text>
</g>
<line x1="632.6" y1="33.80" x2="643.0" y2="33.80" stroke="#808080" stroke-width="2.3"/>
<circle cx="637.7" cy="33.80" r="2.70" fill="#808080"/>
<text x="648.70" y="37.80" font-size="11.30" textLength="35.70" lengthAdjust="spacingAndGlyphs">ASCAT</text>
<line x1="632.6" y1="47.80" x2="643.0" y2="47.80" stroke="#ff0000" stroke-width="2.3"/>
<circle cx="637.7" cy="47.80" r="2.70" fill="#ff0000"/>
<text x="648.70" y="51.80" font-size="11.30" textLength="30.49" lengthAdjust="spacingAndGlyphs">SMAP</text>
<line x1="632.6" y1="201.80" x2="643.0" y2="201.80" stroke="#808080" stroke-width="2.3"/>
<circle cx="637.7" cy="201.80" r="2.70" fill="#808080"/>
<text x="648.70" y="205.80" font-size="11.30" textLength="35.70" lengthAdjust="spacingAndGlyphs">ASCAT</text>
<line x1="632.6" y1="215.80" x2="643.0" y2="215.80" stroke="#0000ff" stroke-width="2.3"/>
<circle cx="637.7" cy="215.80" r="2.70" fill="#0000ff"/>
<text x="648.70" y="219.80" font-size="11.30" textLength="30.49" lengthAdjust="spacingAndGlyphs">SMAP</text>
<text transform="translate(13.30,115.00) rotate(-90)" font-size="12.10" textLength="85.47" lengthAdjust="spacingAndGlyphs">Favourable area</text>
<text x="272.60" y="154.70" font-size="12.10" textLength="98.97" lengthAdjust="spacingAndGlyphs">Unfavourable area</text>
<text transform="translate(9.40,287.70) rotate(-90)" font-size="12.10" textLength="81.71" lengthAdjust="spacingAndGlyphs">Favourable rain</text>
<text transform="translate(13.10,205.10) rotate(-90)" font-size="8.80" textLength="10.09" lengthAdjust="spacingAndGlyphs">tot</text>
<text x="268.50" y="323.40" font-size="12.10" textLength="96.69" lengthAdjust="spacingAndGlyphs">Unfavourable rain</text>
<text x="365.80" y="327.30" font-size="8.80" textLength="9.49" lengthAdjust="spacingAndGlyphs">tot</text>
</svg>
</body></html>
